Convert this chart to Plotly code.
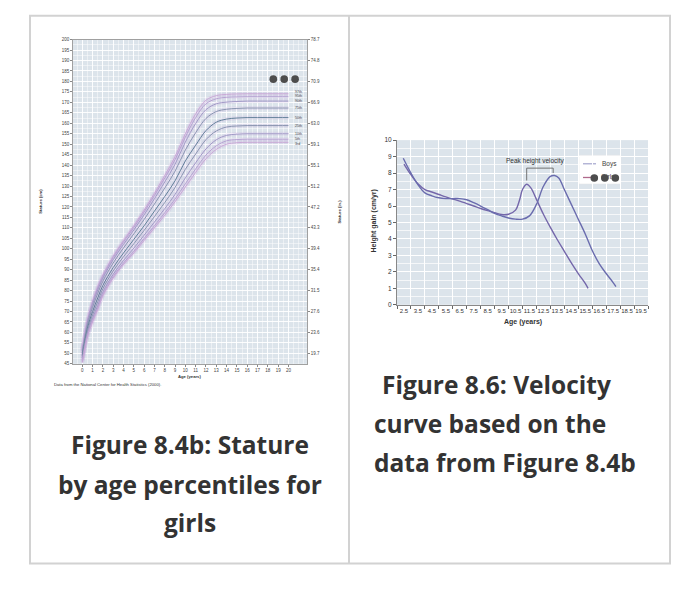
import plotly.graph_objects as go

W, H = 700, 612

# ---------------- data: stature-for-age percentiles (girls) ----------------
ages = [0, 0.5, 1, 1.5, 2, 3, 4, 5, 6, 7, 8, 9, 10, 11, 12, 13, 14, 15, 16, 17, 18, 19, 20]
p97 = [52.0, 66.0, 75.0, 82.0, 87.5, 96.5, 104.0, 111.0, 118.5, 126.5, 135.0, 144.0, 155.0, 164.5, 171.0, 173.2, 173.8, 174.0, 174.1, 174.1, 174.1, 174.1, 174.1]
p95 = [51.6, 65.5, 74.4, 81.3, 86.9, 95.8, 103.3, 110.2, 117.6, 125.5, 133.8, 142.6, 153.4, 162.7, 169.3, 171.7, 172.4, 172.6, 172.7, 172.7, 172.7, 172.7, 172.7]
p90 = [51.1, 64.8, 73.5, 80.3, 86.0, 94.8, 102.1, 109.0, 116.2, 123.9, 131.9, 140.4, 151.0, 159.9, 166.5, 169.3, 170.1, 170.4, 170.6, 170.6, 170.6, 170.6, 170.6]
p75 = [50.2, 63.6, 72.0, 78.7, 84.5, 93.2, 100.4, 107.1, 114.0, 121.4, 129.0, 137.1, 147.2, 155.5, 162.3, 165.6, 166.7, 167.1, 167.3, 167.3, 167.3, 167.3, 167.3]
p50 = [49.0, 62.0, 70.0, 76.5, 82.5, 91.0, 98.0, 104.5, 111.0, 118.0, 125.0, 132.5, 142.0, 149.5, 156.5, 160.5, 162.0, 162.5, 162.7, 162.7, 162.7, 162.7, 162.7]
p25 = [47.9, 60.7, 68.4, 74.7, 80.9, 89.4, 96.2, 102.4, 108.8, 115.4, 122.1, 129.3, 138.0, 145.3, 152.2, 156.3, 158.2, 158.7, 158.9, 158.9, 158.9, 158.9, 158.9]
p10 = [46.7, 59.4, 66.8, 72.9, 79.3, 87.8, 94.4, 100.3, 106.5, 112.8, 119.2, 126.0, 133.9, 141.1, 147.7, 152.1, 154.2, 154.8, 155.0, 155.0, 155.0, 155.0, 155.0]
p5 = [46.0, 58.5, 65.7, 71.7, 78.2, 86.7, 93.2, 98.8, 104.9, 111.0, 117.2, 123.8, 131.1, 138.2, 144.8, 149.2, 151.6, 152.2, 152.4, 152.4, 152.4, 152.4, 152.4]
p3 = [45.5, 58.0, 65.0, 71.0, 77.5, 86.0, 92.5, 98.0, 104.0, 110.0, 116.0, 122.5, 129.5, 136.5, 143.0, 147.5, 150.0, 150.7, 150.9, 150.9, 150.9, 150.9, 150.9]
pct_labels = ["97th", "95th", "90th", "75th", "50th", "25th", "10th", "5th", "3rd"]

cm_ticks = list(range(45, 201, 5))
in_tickvals = list(range(50, 201, 10))
in_ticktext = ["19.7", "23.6", "27.6", "31.5", "35.4", "39.4", "43.3", "47.2", "51.2",
               "55.1", "59.1", "63.0", "66.9", "70.9", "74.8", "78.7"]
age_ticks = list(range(0, 21))

# ---------------- data: velocity curves ----------------
girls_age = [2.5, 3.0, 3.5, 4.0, 4.5, 5.0, 5.5, 6.0, 6.5, 7.0, 7.5, 8.0, 8.5, 9.0, 9.5, 10.0, 10.5, 10.8, 11.0, 11.3, 11.6, 12.0, 12.5, 13.0, 13.5, 14.0, 14.5, 15.0, 15.5, 15.7]
girls_vel = [8.55, 7.9, 7.35, 7.0, 6.85, 6.7, 6.55, 6.42, 6.3, 6.15, 6.0, 5.85, 5.72, 5.6, 5.48, 5.5, 5.75, 6.4, 7.0, 7.32, 7.1, 6.4, 5.5, 4.7, 3.95, 3.25, 2.55, 1.9, 1.3, 1.0]
boys_age = [2.45, 3.0, 3.5, 4.0, 4.5, 5.0, 5.5, 6.0, 6.5, 7.0, 7.5, 8.0, 8.5, 9.0, 9.5, 10.0, 10.5, 11.0, 11.5, 12.0, 12.5, 13.0, 13.3, 13.6, 14.0, 14.5, 15.0, 15.5, 16.0, 16.5, 17.0, 17.5, 17.7]
boys_vel = [8.9, 8.0, 7.3, 6.8, 6.62, 6.5, 6.45, 6.45, 6.45, 6.38, 6.2, 6.0, 5.78, 5.55, 5.4, 5.27, 5.2, 5.2, 5.4, 6.1, 7.2, 7.8, 7.85, 7.7, 7.0, 6.1, 5.2, 4.3, 3.3, 2.5, 1.9, 1.35, 1.1]
vel_xtick = [2.5 + i for i in range(18)]
peak_girls = (11.3, 7.55)
peak_boys = (13.2, 8.0)


def px(x):
    return x / W


def py(y):
    return 1 - y / H


fig = go.Figure()

series = [p97, p95, p90, p75, p50, p25, p10, p5, p3]
colors = ["#c9a8d6", "#b6a2d2", "#a199c6", "#8a95b1", "#607e98", "#8a95b1", "#a199c6", "#b6a2d2", "#c9a8d6"]
label_shift = [1.5, 0.5, 0, 0, 0, 0, 0, 0.5, -1.5]

# soft glow underneath
for s in series:
    fig.add_trace(go.Scatter(x=ages, y=s, mode="lines", line=dict(color="rgba(180,130,205,0.13)", width=4, shape="spline"),
                             hoverinfo="skip", showlegend=False, xaxis="x", yaxis="y"))
for s, c in zip(series, colors):
    fig.add_trace(go.Scatter(x=ages, y=s, mode="lines", line=dict(color=c, width=1, shape="spline"),
                             showlegend=False, xaxis="x", yaxis="y"))
# trace on the inches axis so that it is drawn
fig.add_trace(go.Scatter(x=ages, y=p50, mode="lines", line=dict(width=0), opacity=0, hoverinfo="skip",
                         showlegend=False, xaxis="x", yaxis="y2"))

# percentile labels
for lab, s, sh in zip(pct_labels, series, label_shift):
    fig.add_annotation(x=20.4, y=s[-1], xref="x", yref="y", text=lab, showarrow=False, xanchor="left", yshift=sh,
                       font=dict(size=3.6, color="#444", family="Liberation Sans"))

# velocity curves
fig.add_trace(go.Scatter(x=girls_age, y=girls_vel, mode="lines", line=dict(color="#7467aa", width=1.4, shape="spline"),
                         showlegend=False, xaxis="x2", yaxis="y3"))
fig.add_trace(go.Scatter(x=boys_age, y=boys_vel, mode="lines", line=dict(color="#6a6cae", width=1.4, shape="spline"),
                         showlegend=False, xaxis="x2", yaxis="y3"))
# "Girls" legend text as trace so the dots cover it
fig.add_trace(go.Scatter(x=[2 + (601 - 397) / 13.94], y=[(304.3 - 175.5) / 16.66], mode="text", text=["Girls"],
                         textposition="middle right", textfont=dict(size=6.5, color="#444", family="Liberation Sans"),
                         showlegend=False, hoverinfo="skip", xaxis="x2", yaxis="y3", cliponaxis=False))

tickfont_small = dict(size=4.5, color="#444", family="Liberation Sans")
tickfont_v = dict(size=6, color="#333", family="Liberation Sans")

fig.update_layout(
    width=W, height=H, margin=dict(l=0, r=0, t=0, b=0),
    paper_bgcolor="white", plot_bgcolor="#dce4eb",
    xaxis=dict(domain=[px(73), px(307)], range=[-0.9, 21.8], tickvals=age_ticks, ticks="outside", ticklen=2,
               tickcolor="#888", tickfont=tickfont_small, showline=True, linecolor="#a0a0a0", linewidth=0.8,
               mirror=True, showgrid=True, gridcolor="rgba(255,255,255,0.85)", gridwidth=0.6, zeroline=False, anchor="y",
               minor=dict(dtick=0.5, tick0=0, showgrid=True, gridcolor="rgba(255,255,255,0.45)", gridwidth=0.5)),
    yaxis=dict(domain=[py(364), py(36)], range=[45, 200], tickvals=cm_ticks, ticks="outside", ticklen=2,
               tickcolor="#888", tickfont=tickfont_small, showline=True, linecolor="#a0a0a0", linewidth=0.8,
               showgrid=True, gridcolor="rgba(255,255,255,0.85)", gridwidth=0.6, zeroline=False, anchor="x",
               minor=dict(dtick=2.5, tick0=45, showgrid=True, gridcolor="rgba(255,255,255,0.45)", gridwidth=0.5)),
    yaxis2=dict(overlaying="y", side="right", anchor="x", range=[45, 200], tickvals=in_tickvals, ticktext=in_ticktext,
                ticks="outside", ticklen=2, tickcolor="#888", tickfont=tickfont_small, showline=True,
                linecolor="#a0a0a0", linewidth=0.8, showgrid=False, zeroline=False),
    xaxis2=dict(domain=[px(397), px(648)], range=[2, 20], tickvals=vel_xtick, ticktext=[str(v) for v in vel_xtick],
                tickangle=0, ticks="", tickfont=tickfont_v, showgrid=False, zeroline=False, showline=True,
                linecolor="#888", linewidth=1, anchor="y3",
                minor=dict(dtick=1, tick0=2, ticks="outside", ticklen=3, tickcolor="#666", showgrid=True,
                           gridcolor="white", gridwidth=0.9)),
    yaxis3=dict(domain=[py(304.3), py(137.7)], range=[0, 10], dtick=1, ticks="outside", ticklen=3, tickcolor="#666",
                tickfont=dict(size=6.5, color="#333", family="Liberation Sans"), showline=True, linecolor="#888",
                linewidth=1, showgrid=True, gridcolor="white", gridwidth=0.9, zeroline=False, anchor="x2",
                minor=dict(dtick=0.5, showgrid=True, gridcolor="rgba(255,255,255,0.7)", gridwidth=0.6)),
)

shapes = []
# panel frames
shapes.append(dict(type="rect", xref="paper", yref="paper", x0=px(30), x1=px(670), y0=py(566), y1=py(12),
                   line=dict(color="#d2d2d2", width=2), layer="below"))
shapes.append(dict(type="line", xref="paper", yref="paper", x0=px(349), x1=px(349), y0=py(566), y1=py(12),
                   line=dict(color="#d2d2d2", width=2), layer="below"))
# dots on left chart
for cx in [273.3, 284.2, 295.1]:
    shapes.append(dict(type="circle", xref="paper", yref="paper", x0=px(cx - 3.8), x1=px(cx + 3.8),
                       y0=py(76 + 3.8), y1=py(76 - 3.8), fillcolor="#4d4d4d", line=dict(width=0), layer="above"))
# legend box on velocity chart
shapes.append(dict(type="rect", xref="paper", yref="paper", x0=px(579), x1=px(621), y0=py(182), y1=py(153),
                   fillcolor="white", line=dict(color="#e6e6e6", width=0.5), layer="between"))
shapes.append(dict(type="line", xref="paper", yref="paper", x0=px(583), x1=px(596), y0=py(162), y1=py(162),
                   line=dict(color="#6a6cae", width=1.3), layer="between"))
shapes.append(dict(type="line", xref="paper", yref="paper", x0=px(583), x1=px(596), y0=py(175.5), y1=py(175.5),
                   line=dict(color="#b06a8c", width=1.3), layer="between"))
for cx in [594.3, 604.8, 615.3]:
    shapes.append(dict(type="circle", xref="paper", yref="paper", x0=px(cx - 3.8), x1=px(cx + 3.8),
                       y0=py(176 + 3.8), y1=py(176 - 3.8), fillcolor="#4d4d4d", line=dict(width=0), layer="above"))
# peak height velocity bracket
br_top = 8.3
shapes.append(dict(type="line", xref="x2", yref="y3", x0=peak_girls[0], x1=peak_girls[0], y0=peak_girls[1], y1=br_top,
                   line=dict(color="#666", width=0.9)))
shapes.append(dict(type="line", xref="x2", yref="y3", x0=peak_girls[0], x1=peak_boys[0], y0=br_top, y1=br_top,
                   line=dict(color="#666", width=0.9)))
shapes.append(dict(type="line", xref="x2", yref="y3", x0=peak_boys[0], x1=peak_boys[0], y0=br_top, y1=peak_boys[1],
                   line=dict(color="#666", width=0.9)))
fig.update_layout(shapes=shapes)


def ann(text, x, y, size, color="#333", bold=False, anchor="center", angle=0, family="Liberation Sans", yanchor="middle"):
    fig.add_annotation(text=("<b>%s</b>" % text) if bold else text, x=px(x), y=py(y), xref="paper", yref="paper",
                       showarrow=False, xanchor=anchor, yanchor=yanchor, textangle=angle,
                       font=dict(size=size, color=color, family=family))


# left chart texts
ann("Stature (cm)", 41, 200, 4.2, bold=True, angle=-90)
ann("Stature (in.)", 340, 210, 4.2, bold=True, angle=-90)
ann("Age (years)", 190, 377, 4.2, bold=True)
ann("Data from the National Center for Health Statistics (2000).", 52, 385, 4.2, anchor="left")

# velocity chart texts
ann("Height gain (cm/yr)", 374, 220, 7, bold=True, angle=-90)
ann("Age (years)", 523, 322, 7, bold=True)
fig.add_annotation(text="Peak height velocity", x=11.9, y=8.76, xref="x2", yref="y3", showarrow=False,
                   font=dict(size=6.5, color="#333", family="Liberation Sans"))
ann("Boys", 600, 162, 6.5, color="#444", anchor="left")

# captions
cap = dict(size=24.5, color="#333333", bold=True, family="Open Sans")
ann("Figure 8.4b: Stature", 189.5, 446, **cap)
ann("by age percentiles for", 189.5, 486, **cap)
ann("girls", 189.5, 524, **cap)
ann("Figure 8.6: Velocity", 380, 385, anchor="left", **cap)
ann("curve based on the", 372, 424, anchor="left", **cap)
ann("data from Figure 8.4b", 372, 464, anchor="left", **cap)

fig.write_html("out.html")
